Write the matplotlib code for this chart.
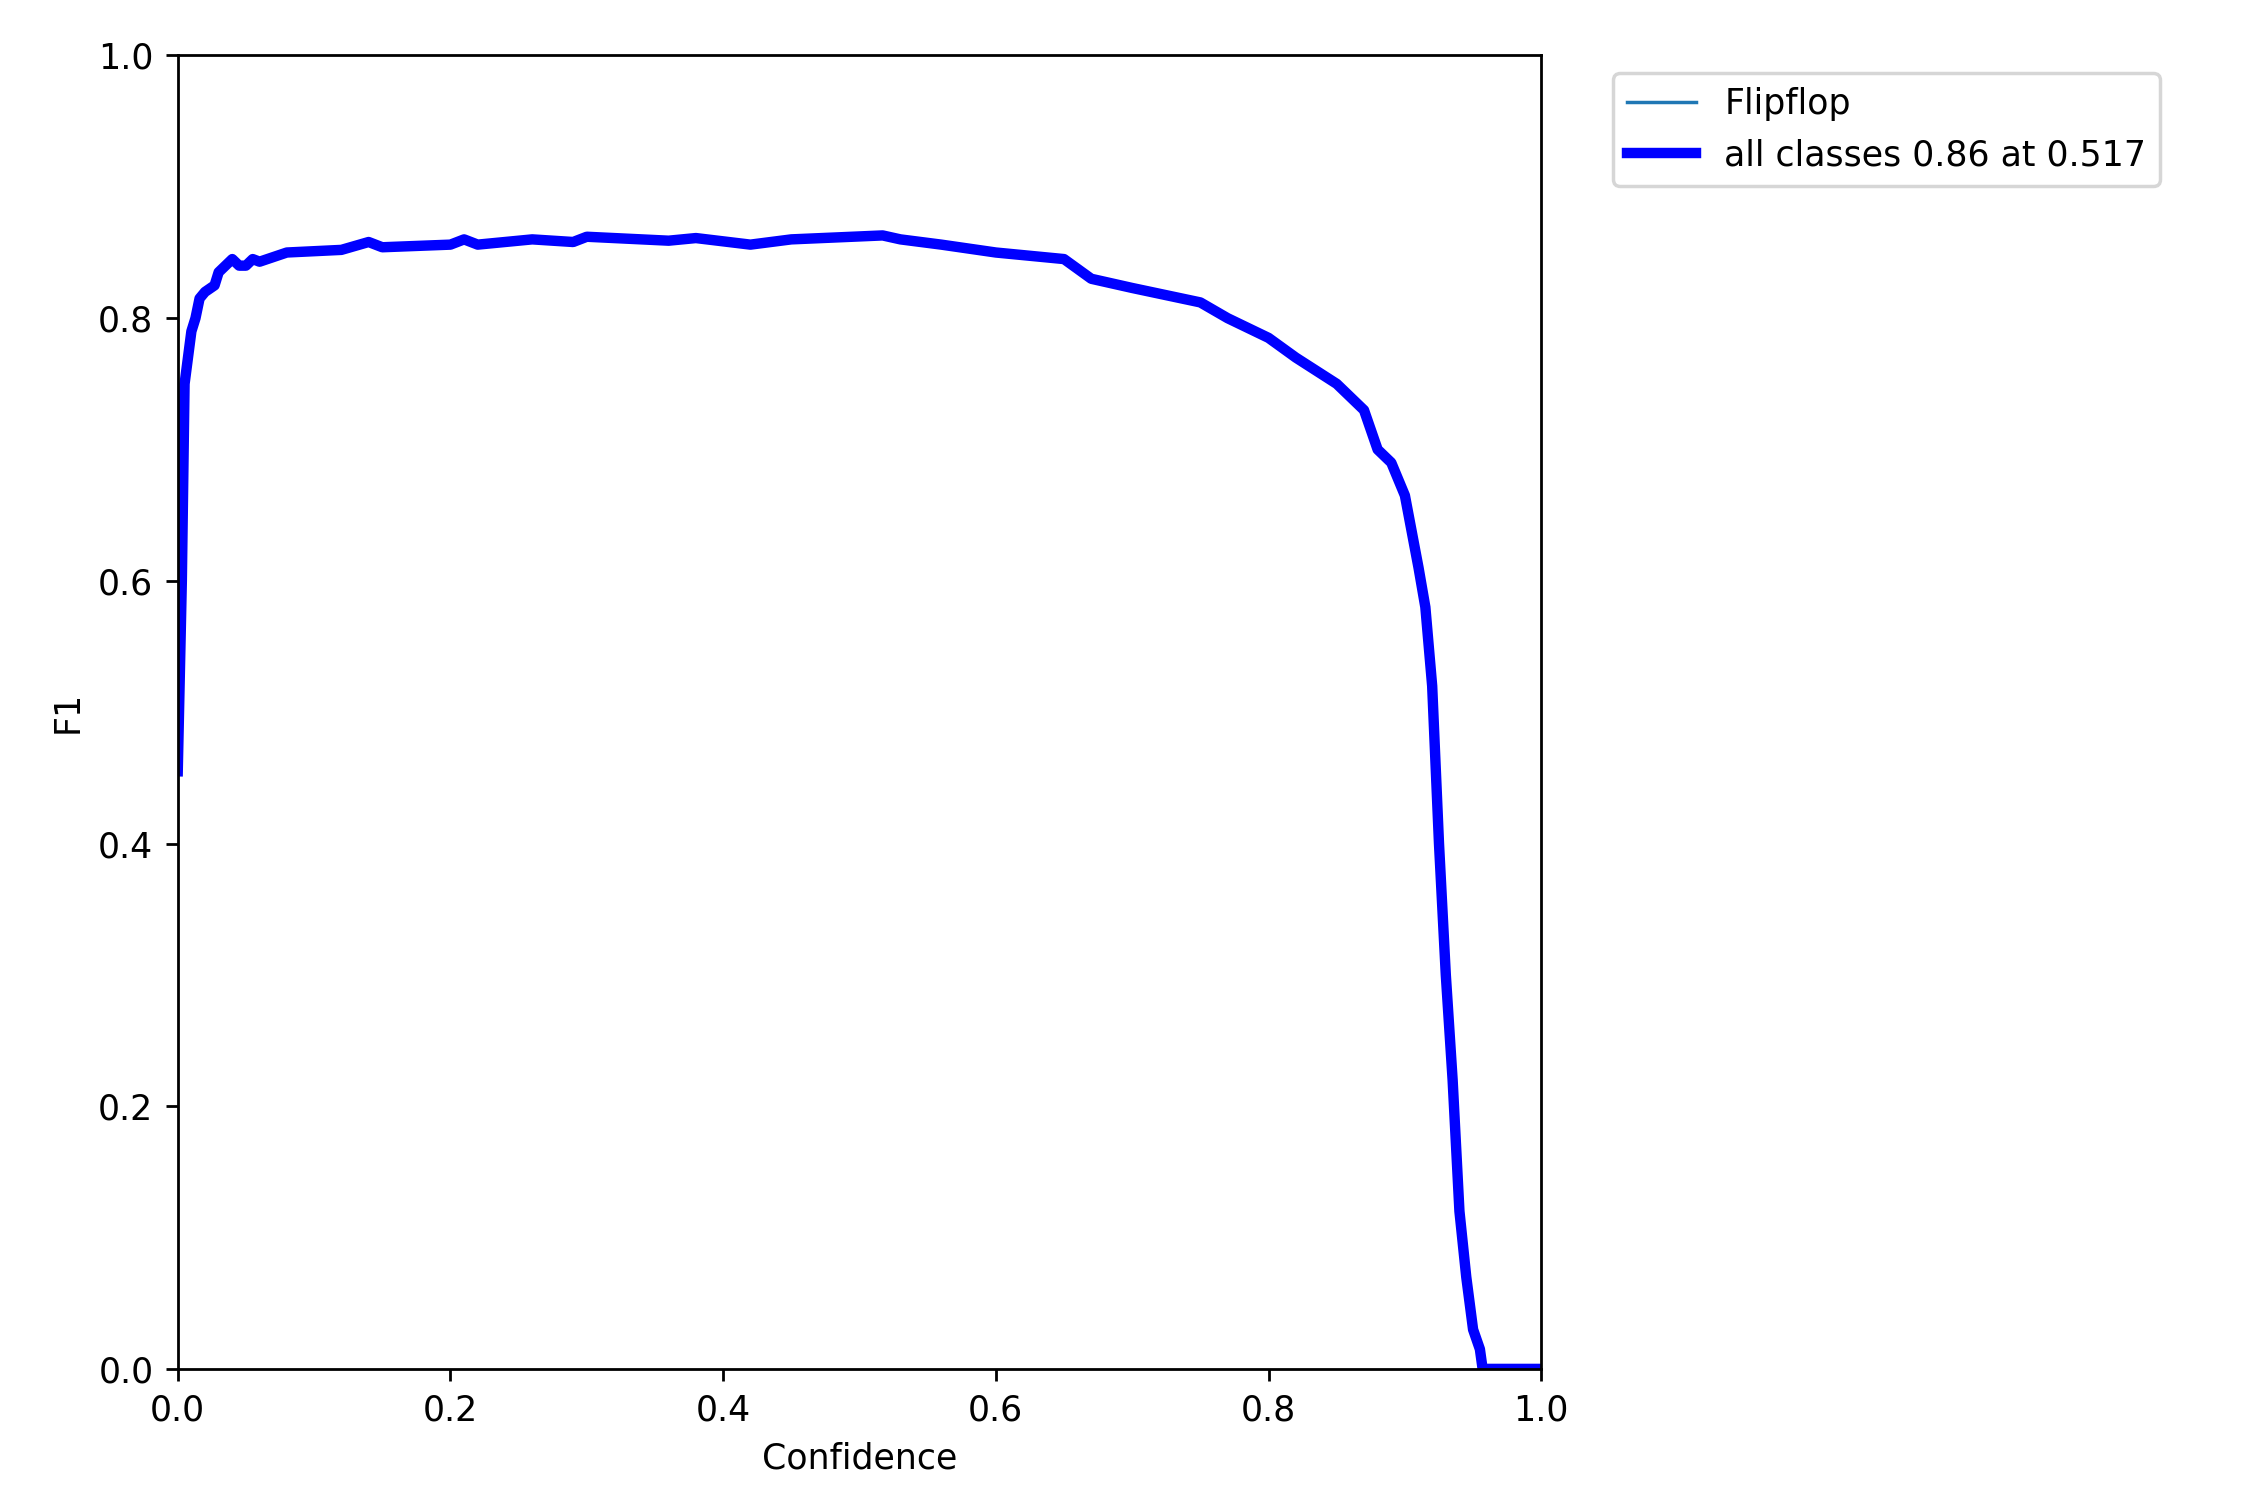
import matplotlib
matplotlib.use("Agg")
import matplotlib.pyplot as plt

conf = [0,0.003,0.005,0.01,0.013,0.016,0.02,0.027,0.03,0.035,0.04,0.045,0.05,0.055,0.06,0.08,0.12,0.14,0.15,0.2,0.21,0.22,0.26,0.29,0.3,0.32,0.36,0.38,0.42,0.45,0.517,0.53,0.56,0.6,0.65,0.67,0.7,0.75,0.77,0.8,0.82,0.85,0.87,0.88,0.89,0.9,0.91,0.915,0.92,0.925,0.93,0.935,0.94,0.945,0.95,0.955,0.957,1.0]
f1 = [0.455,0.6,0.75,0.79,0.80,0.815,0.82,0.825,0.835,0.84,0.845,0.84,0.84,0.845,0.843,0.85,0.852,0.858,0.854,0.856,0.86,0.856,0.86,0.858,0.862,0.861,0.859,0.861,0.856,0.86,0.863,0.86,0.856,0.85,0.845,0.83,0.823,0.812,0.80,0.785,0.77,0.75,0.73,0.70,0.69,0.665,0.61,0.58,0.52,0.40,0.30,0.22,0.12,0.07,0.03,0.015,0.0,0.0]

fig = plt.figure(figsize=(9, 6), dpi=250)
ax = fig.add_axes([0.079, 0.0874, 0.606, 0.8756])
ax.plot(conf, f1, linewidth=1, label="Flipflop")
ax.plot(conf, f1, linewidth=3, color="blue", label="all classes 0.86 at 0.517")
ax.set_xlim(0, 1)
ax.set_ylim(0, 1)
ax.set_xlabel("Confidence")
ax.set_ylabel("F1")
ax.legend(bbox_to_anchor=(1.04, 1), loc="upper left")
fig.savefig("out.png", dpi=250)
